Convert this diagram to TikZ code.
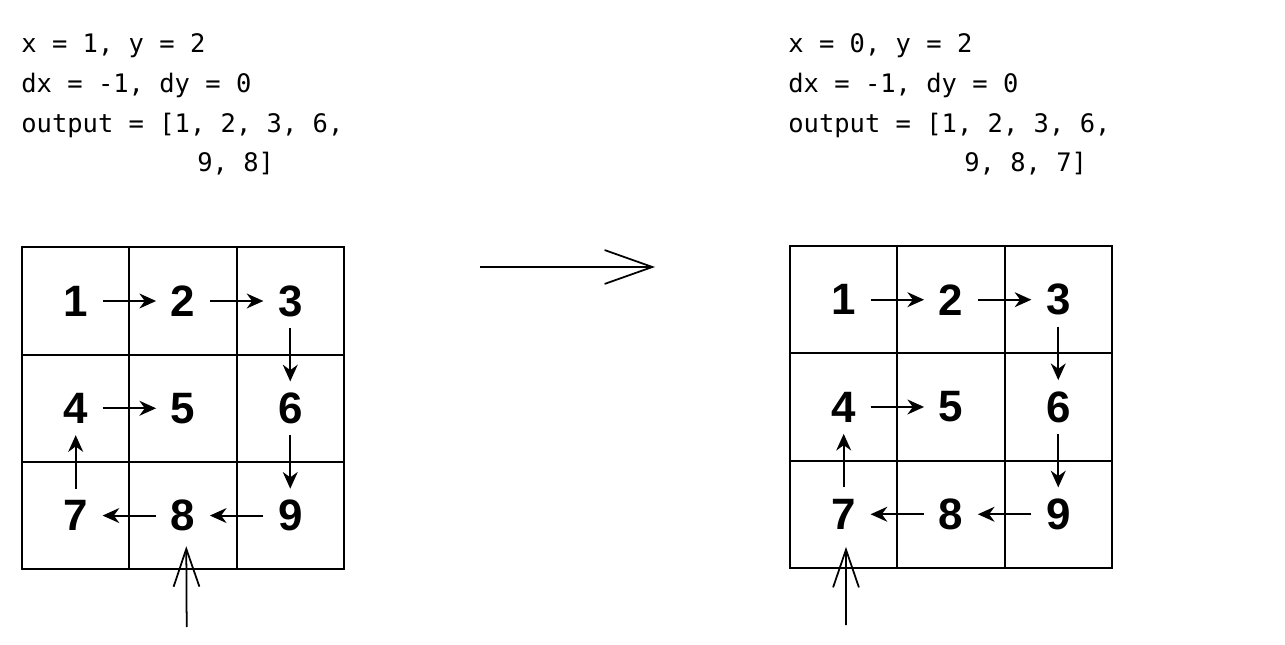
\documentclass[tikz,border=0pt]{standalone}
\usepackage{fontspec}
\setmainfont{Liberation Sans}
\newfontfamily\handfont{DejaVu Sans Mono}
\usetikzlibrary{positioning,arrows.meta}
\tikzset{
  cell/.style={draw,line width=1.1pt,minimum size=2.146cm,inner sep=0pt,outer sep=0pt,
    font=\fontsize{25}{28}\selectfont\bfseries},
  walk/.style={-{Stealth[length=9.5pt,width=8.5pt]},line width=1.1pt,
    shorten <=15.3pt,shorten >=15.3pt},
  pointer/.style={-{Straight Barb[length=21.5pt,width=14.7pt]},line width=1pt},
  next/.style={-{Straight Barb[length=27.2pt,width=19.3pt]},line width=1pt},
  note/.style={align=left,anchor=north west,inner sep=0pt,
    font=\handfont\fontsize{14.5}{22.7}\selectfont},
}

\begin{document}
\begin{tikzpicture}[x=0.02cm,y=-0.02cm]
  \useasboundingbox (0,0) rectangle (1285,645);

  % state before the step
  \node[note] (before) at (21,33)
    {x = 1, y = 2\\dx = -1, dy = 0\\output = [1, 2, 3, 6,\\\hspace*{3.52cm}9, 8]};
  \node[cell]                  (a1) at (75.7,301) {1};
  \node[cell,right=0pt of a1]  (a2) {2};
  \node[cell,right=0pt of a2]  (a3) {3};
  \node[cell,below=0pt of a1]  (a4) {4};
  \node[cell,right=0pt of a4]  (a5) {5};
  \node[cell,right=0pt of a5]  (a6) {6};
  \node[cell,below=0pt of a4]  (a7) {7};
  \node[cell,right=0pt of a7]  (a8) {8};
  \node[cell,right=0pt of a8]  (a9) {9};
  \draw[walk] (a1.center) -- (a2.center);
  \draw[walk] (a2.center) -- (a3.center);
  \draw[walk] (a3.center) -- (a6.center);
  \draw[walk] (a6.center) -- (a9.center);
  \draw[walk] (a9.center) -- (a8.center);
  \draw[walk] (a8.center) -- (a7.center);
  \draw[walk] (a7.center) -- (a4.center);
  \draw[walk] (a4.center) -- (a5.center);
  \coordinate (a in) at (186.7,627);
  \draw[pointer] (a in) -- ([xshift=0.066cm,yshift=0.46cm]a8.south);

  % the step
  \coordinate (go from) at (480,267);
  \coordinate (go to)   at (655,267);
  \draw[next] (go from) -- (go to);

  % state after the step
  \node[note] (after) at (788,33)
    {x = 0, y = 2\\dx = -1, dy = 0\\output = [1, 2, 3, 6,\\\hspace*{3.52cm}9, 8, 7]};
  \node[cell]                  (b1) at (843.7,299.7) {1};
  \node[cell,right=0pt of b1]  (b2) {2};
  \node[cell,right=0pt of b2]  (b3) {3};
  \node[cell,below=0pt of b1]  (b4) {4};
  \node[cell,right=0pt of b4]  (b5) {5};
  \node[cell,right=0pt of b5]  (b6) {6};
  \node[cell,below=0pt of b4]  (b7) {7};
  \node[cell,right=0pt of b7]  (b8) {8};
  \node[cell,right=0pt of b8]  (b9) {9};
  \draw[walk] (b1.center) -- (b2.center);
  \draw[walk] (b2.center) -- (b3.center);
  \draw[walk] (b3.center) -- (b6.center);
  \draw[walk] (b6.center) -- (b9.center);
  \draw[walk] (b9.center) -- (b8.center);
  \draw[walk] (b8.center) -- (b7.center);
  \draw[walk] (b7.center) -- (b4.center);
  \draw[walk] (b4.center) -- (b5.center);
  \coordinate (b in) at (846,625);
  \draw[pointer] (b in) -- ([xshift=0.046cm,yshift=0.42cm]b7.south);
\end{tikzpicture}
\end{document}
